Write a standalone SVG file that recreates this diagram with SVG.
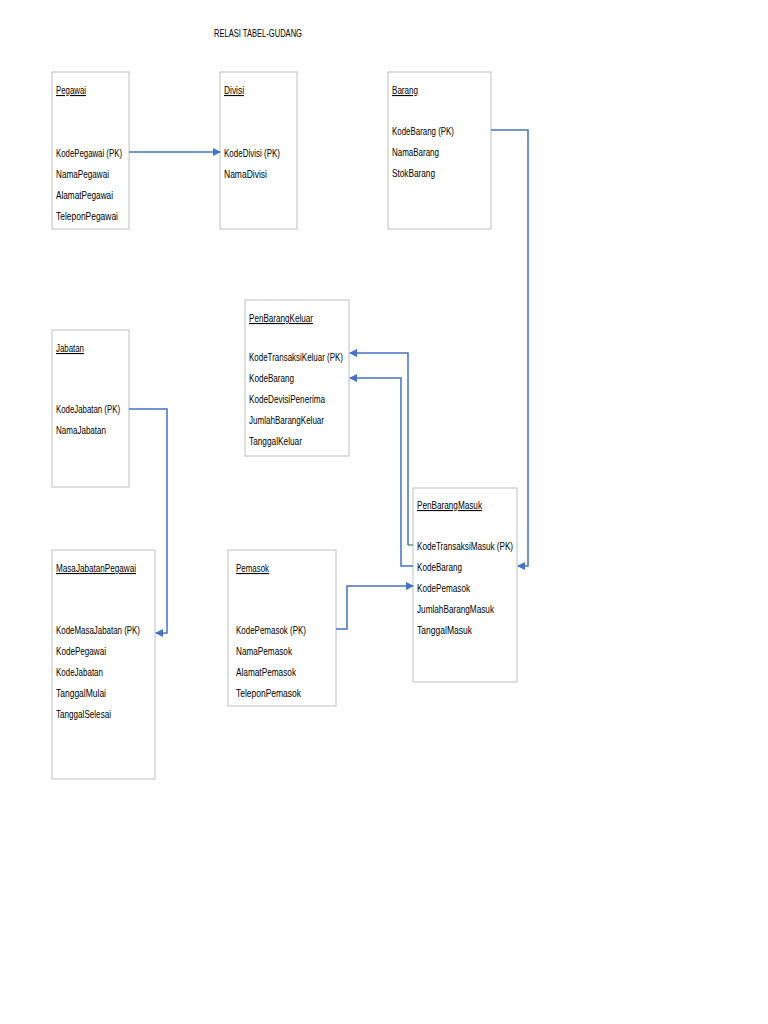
<svg xmlns="http://www.w3.org/2000/svg" width="768" height="1024" viewBox="0 0 768 1024">
<style>
text{font-family:"Liberation Sans",Arial,sans-serif;font-size:11px;fill:#000}
.box{fill:#fff;stroke:#bfbfbf;stroke-width:1}
.h{text-decoration:underline}
.c{fill:none;stroke:#4472c4;stroke-width:1.5}
</style>
<defs><marker id="a" markerWidth="8" markerHeight="8" refX="7" refY="4" orient="auto" markerUnits="userSpaceOnUse"><path d="M0,0 L8,4 L0,8 Z" fill="#4472c4"/></marker></defs>
<rect width="768" height="1024" fill="#fff"/>
<text x="258" y="37" text-anchor="middle" textLength="88" lengthAdjust="spacingAndGlyphs">RELASI TABEL-GUDANG</text>
<g id="pegawai"><rect class="box" x="52" y="72" width="77" height="157"/>
<text class="h" x="56" y="94" textLength="30" lengthAdjust="spacingAndGlyphs">Pegawai</text>
<text x="56" y="157" textLength="66" lengthAdjust="spacingAndGlyphs">KodePegawai (PK)</text>
<text x="56" y="178" textLength="53" lengthAdjust="spacingAndGlyphs">NamaPegawai</text>
<text x="56" y="199" textLength="57" lengthAdjust="spacingAndGlyphs">AlamatPegawai</text>
<text x="56" y="220" textLength="62" lengthAdjust="spacingAndGlyphs">TeleponPegawai</text></g>
<g id="divisi"><rect class="box" x="220" y="72" width="77" height="157"/>
<text class="h" x="224" y="94" textLength="20" lengthAdjust="spacingAndGlyphs">Divisi</text>
<text x="224" y="157" textLength="56" lengthAdjust="spacingAndGlyphs">KodeDivisi (PK)</text>
<text x="224" y="178" textLength="43" lengthAdjust="spacingAndGlyphs">NamaDivisi</text></g>
<g id="barang"><rect class="box" x="388" y="72" width="103" height="157"/>
<text class="h" x="392" y="94" textLength="26" lengthAdjust="spacingAndGlyphs">Barang</text>
<text x="392" y="135" textLength="62" lengthAdjust="spacingAndGlyphs">KodeBarang (PK)</text>
<text x="392" y="156" textLength="47" lengthAdjust="spacingAndGlyphs">NamaBarang</text>
<text x="392" y="177" textLength="43" lengthAdjust="spacingAndGlyphs">StokBarang</text></g>
<g id="penbarangkeluar"><rect class="box" x="245" y="300" width="104" height="156"/>
<text class="h" x="249" y="322" textLength="64" lengthAdjust="spacingAndGlyphs">PenBarangKeluar</text>
<text x="249" y="361" textLength="94" lengthAdjust="spacingAndGlyphs">KodeTransaksiKeluar (PK)</text>
<text x="249" y="382" textLength="45" lengthAdjust="spacingAndGlyphs">KodeBarang</text>
<text x="249" y="403" textLength="76" lengthAdjust="spacingAndGlyphs">KodeDevisiPenerima</text>
<text x="249" y="424" textLength="75" lengthAdjust="spacingAndGlyphs">JumlahBarangKeluar</text>
<text x="249" y="445" textLength="53" lengthAdjust="spacingAndGlyphs">TanggalKeluar</text></g>
<g id="jabatan"><rect class="box" x="52" y="330" width="77" height="157"/>
<text class="h" x="56" y="352" textLength="28" lengthAdjust="spacingAndGlyphs">Jabatan</text>
<text x="56" y="413" textLength="64" lengthAdjust="spacingAndGlyphs">KodeJabatan (PK)</text>
<text x="56" y="434" textLength="50" lengthAdjust="spacingAndGlyphs">NamaJabatan</text></g>
<g id="masajabatanpegawai"><rect class="box" x="52" y="550" width="103" height="229"/>
<text class="h" x="56" y="572" textLength="80" lengthAdjust="spacingAndGlyphs">MasaJabatanPegawai</text>
<text x="56" y="634" textLength="84" lengthAdjust="spacingAndGlyphs">KodeMasaJabatan (PK)</text>
<text x="56" y="655" textLength="50" lengthAdjust="spacingAndGlyphs">KodePegawai</text>
<text x="56" y="676" textLength="47" lengthAdjust="spacingAndGlyphs">KodeJabatan</text>
<text x="56" y="697" textLength="50" lengthAdjust="spacingAndGlyphs">TanggalMulai</text>
<text x="56" y="718" textLength="55" lengthAdjust="spacingAndGlyphs">TanggalSelesai</text></g>
<g id="pemasok"><rect class="box" x="228" y="550" width="108" height="156"/>
<text class="h" x="236" y="572" textLength="33" lengthAdjust="spacingAndGlyphs">Pemasok</text>
<text x="236" y="634" textLength="70" lengthAdjust="spacingAndGlyphs">KodePemasok (PK)</text>
<text x="236" y="655" textLength="56" lengthAdjust="spacingAndGlyphs">NamaPemasok</text>
<text x="236" y="676" textLength="60" lengthAdjust="spacingAndGlyphs">AlamatPemasok</text>
<text x="236" y="697" textLength="65" lengthAdjust="spacingAndGlyphs">TeleponPemasok</text></g>
<g id="penbarangmasuk"><rect class="box" x="413" y="488" width="104" height="194"/>
<text class="h" x="417" y="509" textLength="65" lengthAdjust="spacingAndGlyphs">PenBarangMasuk</text>
<text x="417" y="550" textLength="96" lengthAdjust="spacingAndGlyphs">KodeTransaksiMasuk (PK)</text>
<text x="417" y="571" textLength="45" lengthAdjust="spacingAndGlyphs">KodeBarang</text>
<text x="417" y="592" textLength="53" lengthAdjust="spacingAndGlyphs">KodePemasok</text>
<text x="417" y="613" textLength="77" lengthAdjust="spacingAndGlyphs">JumlahBarangMasuk</text>
<text x="417" y="634" textLength="55" lengthAdjust="spacingAndGlyphs">TanggalMasuk</text></g>
<g id="connectors">
<path class="c" d="M129,152 H220" marker-end="url(#a)"/>
<path class="c" d="M491,130 H528 V566 H518" marker-end="url(#a)"/>
<path class="c" d="M129,409 H167 V633 H156" marker-end="url(#a)"/>
<path class="c" d="M336,629 H347 V586 H413" marker-end="url(#a)"/>
<path class="c" d="M408,545 V353 H350" marker-end="url(#a)"/>
<path class="c" d="M413,566 H401 V378 H350" marker-end="url(#a)"/>
<path d="M408,545 H413" stroke="#2e8b3e" stroke-width="1.2"/>
</g>
</svg>
